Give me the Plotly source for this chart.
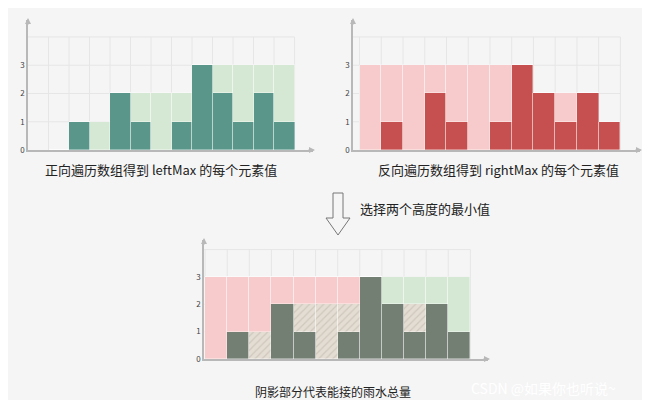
import plotly.graph_objects as go
import numpy as np

height = [0, 1, 0, 2, 1, 0, 1, 3, 2, 1, 2, 1]
left_max = [0, 1, 1, 2, 2, 2, 2, 3, 3, 3, 3, 3]
right_max = [3, 3, 3, 3, 3, 3, 3, 3, 2, 2, 2, 1]
yticks = [0, 1, 2, 3]
cols = [i + 0.5 for i in range(12)]

h = np.array(height); L = np.array(left_max); R = np.array(right_max)
mn = np.minimum(L, R)

W, H = 650, 400
def px(x): return x / W
def py(y): return 1 - y / H

fig = go.Figure()
FONT = "Noto Sans CJK SC"

def bar(x, y, color, ax, pattern=None):
    m = dict(color=color, line=dict(width=0.6, color="rgba(255,255,255,0.6)"))
    if pattern:
        m["pattern"] = dict(shape="/", bgcolor=color, fgcolor="#b9b2a6", size=5, solidity=0.25)
    fig.add_trace(go.Bar(x=x, y=y, width=1, marker=m, xaxis="x" + ax, yaxis="y" + ax,
                         showlegend=False, hoverinfo="skip"))

# top-left
bar(cols, h, "#5a978a", "")
bar(cols, L - h, "#d4e8d4", "")
# top-right
bar(cols, h, "#c5504f", "2")
bar(cols, R - h, "#f7cbcb", "2")
# bottom
bar(cols, h, "#747f74", "3")
bar(cols, mn - h, "#e4ddd3", "3", pattern=True)
bar(cols, np.where(R > L, R - mn, 0), "#f7cbcb", "3")
bar(cols, np.where(L > R, L - mn, 0), "#d4e8d4", "3")

panels = [
    ("", (20, 305), (142, 12), (-1, 12.9), 4.6),
    ("2", (345, 632), (142, 12), (-0.3, 12.9), 4.6),
    ("3", (196, 480), (351, 232), (-0.05, 12.8), 4.35),
]
shapes = []
annotations = []
for ax, (x0, x1), (yb, yt), xr, ytop in panels:
    k = ax
    fig.layout["xaxis" + k] = dict(domain=[px(x0), px(x1)], range=list(xr), showgrid=False,
                                   zeroline=False, showticklabels=False, showline=True,
                                   linecolor="#b8b8b8", linewidth=1.5, anchor="y" + k,
                                   fixedrange=True, automargin=False)
    fig.layout["yaxis" + k] = dict(domain=[py(yb), py(yt)], range=[0, ytop], showgrid=False,
                                   zeroline=False, tickvals=yticks, ticktext=[str(t) for t in yticks],
                                   tickfont=dict(size=8, color="#444", family=FONT), ticks="",
                                   showline=True, linecolor="#b8b8b8", linewidth=1.5,
                                   anchor="x" + k, fixedrange=True, automargin=False)
    xref, yref = "x" + k, "y" + k
    for j in range(1, 5):
        shapes.append(dict(type="line", xref=xref, yref=yref, x0=xr[0], x1=12, y0=j, y1=j,
                           line=dict(color="#e6e6e6", width=1), layer="below"))
    for i in range(0, 13):
        shapes.append(dict(type="line", xref=xref, yref=yref, x0=i, x1=i, y0=0, y1=4,
                           line=dict(color="#e6e6e6", width=1), layer="below"))
    annotations.append(dict(xref="paper", yref="paper", x=px(x1 + 2), y=py(yb), ax=-8, ay=0,
                            showarrow=True, arrowhead=2, arrowsize=0.8, arrowcolor="#b8b8b8",
                            arrowwidth=1.5, text=""))
    annotations.append(dict(xref="paper", yref="paper", x=px(x0), y=py(yt - 2), ax=0, ay=8,
                            showarrow=True, arrowhead=2, arrowsize=0.8, arrowcolor="#b8b8b8",
                            arrowwidth=1.5, text=""))

shapes.append(dict(type="path", xref="paper", yref="paper",
                   path=f"M {px(325)} {py(185)} L {px(335)} {py(185)} L {px(335)} {py(210)} "
                        f"L {px(342)} {py(210)} L {px(330)} {py(227)} L {px(318)} {py(210)} "
                        f"L {px(325)} {py(210)} Z",
                   line=dict(color="#777", width=1), fillcolor="rgba(0,0,0,0)"))

def txt(x, y, s, size=13, color="#222", xanchor="center"):
    annotations.append(dict(xref="paper", yref="paper", x=px(x), y=py(y), text=s, showarrow=False,
                            xanchor=xanchor, yanchor="middle", font=dict(size=size, color=color, family=FONT)))

txt(153, 161, "正向遍历数组得到 leftMax 的每个元素值")
txt(490, 161, "反向遍历数组得到 rightMax 的每个元素值")
txt(350, 200, "选择两个高度的最小值", xanchor="left")
txt(325, 383, "阴影部分代表能接的雨水总量", size=12)
txt(535, 380, "CSDN @如果你也听说~", size=14, color="#ffffff")

fig.update_layout(width=W, height=H, margin=dict(l=0, r=0, t=0, b=0, autoexpand=False),
                  barmode="stack", bargap=0, paper_bgcolor="#f5f5f5",
                  plot_bgcolor="rgba(0,0,0,0)", shapes=shapes, annotations=annotations)
fig.write_html("out.html")
